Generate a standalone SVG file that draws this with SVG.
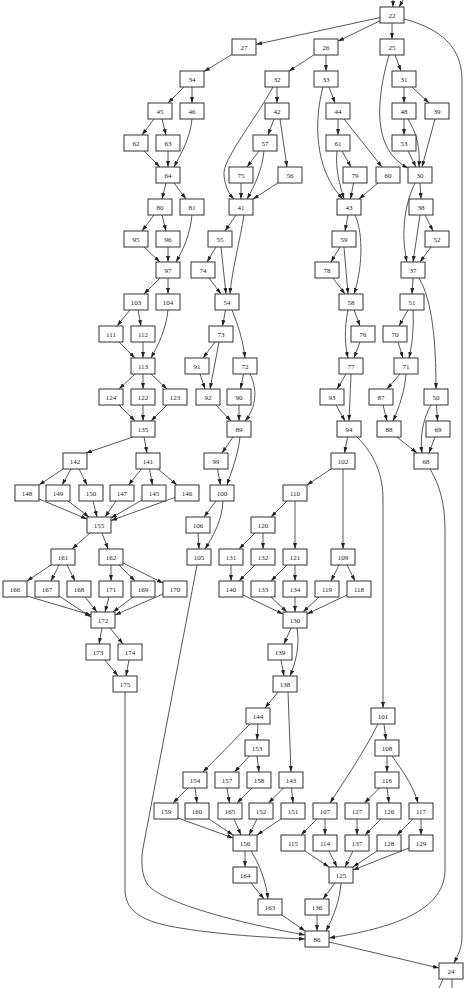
<svg xmlns="http://www.w3.org/2000/svg" width="474" height="988" viewBox="0 0 474 988">
<defs>
<marker id="a" viewBox="0 0 6 4" refX="6" refY="2" markerWidth="6" markerHeight="4" markerUnits="userSpaceOnUse" orient="auto"><path d="M0,0L6,2L0,4z" fill="#222"/></marker>
<style>
.n rect{fill:#fff;stroke:#333;stroke-width:1}
.n text{font-family:"Liberation Serif","Times New Roman",serif;font-size:7px;fill:#222;text-anchor:middle}
#edges path{fill:none;stroke:#444;stroke-width:0.9;marker-end:url(#a)}
#edges path.x{marker-end:none}
</style>
</defs>
<rect width="474" height="988" fill="#fff"/>
<g id="edges">
<path d="M393,0L393,7"/>
<path d="M403,0L399,7"/>
<path d="M380,17.6L256,44.4"/>
<path d="M380,20.8L338,41.2"/>
<path d="M392,23L392,39"/>
<path d="M404,19C430,26 462,40 462,80L462,935C462,948 458,955 454,963"/>
<path d="M232,54.4L204,71.6"/>
<path d="M314,54.8L289,71.2"/>
<path d="M326,55L326,71"/>
<path d="M395,55L401,71"/>
<path d="M389,55C376,100 372,150 408,168"/>
<path d="M184,87L168,103"/>
<path d="M192,87L192,103"/>
<path d="M277,87L277,103"/>
<path d="M273,87C255,120 222,160 224,175C225,188 230,195 234,199"/>
<path d="M329,87L335,103"/>
<path d="M323,87C314,120 314,170 343,199"/>
<path d="M404,87L404,103"/>
<path d="M412,87L429,103"/>
<path d="M154,119L142,135"/>
<path d="M162,119L166,135"/>
<path d="M192,119C190,140 180,155 174,167"/>
<path d="M274,119L268,135"/>
<path d="M280,119L287,167"/>
<path d="M338,119L338,135"/>
<path d="M344,119L382,167"/>
<path d="M404,119L404,135"/>
<path d="M408,119C418,135 420,150 419,167"/>
<path d="M435,119L422,167"/>
<path d="M144,151L160,167"/>
<path d="M168,151L168,167"/>
<path d="M259,151L247,167"/>
<path d="M264,151C262,170 255,185 247,199"/>
<path d="M241,183L241,199"/>
<path d="M278,182.8L253,199.2"/>
<path d="M342,151L351,167"/>
<path d="M337,151C335,170 340,185 344,199"/>
<path d="M353.5,183L350.5,199"/>
<path d="M378,183L359,199"/>
<path d="M408,151L416,167"/>
<path d="M166,183L162,199"/>
<path d="M174,183L186,199"/>
<path d="M236,215L225,231"/>
<path d="M244,215C240,240 232,270 230,294"/>
<path d="M348,215L345,231"/>
<path d="M355,215C364,235 362,270 354,294"/>
<path d="M420,183L421,199"/>
<path d="M415,183C402,210 402,240 407,262"/>
<path d="M425,215L433,231"/>
<path d="M420,215L413,262"/>
<path d="M431,247L420,262"/>
<path d="M154,215L142,231"/>
<path d="M162,215L166,231"/>
<path d="M192,215C190,235 183,250 176,262"/>
<path d="M144,247L160,262"/>
<path d="M168,247L168,262"/>
<path d="M216,247L207,262"/>
<path d="M221,247L226,294"/>
<path d="M209,278L221,294"/>
<path d="M340,247L331,262"/>
<path d="M344,247L348,294"/>
<path d="M333,278L345,294"/>
<path d="M160,278L144,294"/>
<path d="M168,278L168,294"/>
<path d="M130,310L117,326"/>
<path d="M138,310L141,326"/>
<path d="M168,310C166,330 158,345 151,358"/>
<path d="M119,342L135,358"/>
<path d="M143,342L143,358"/>
<path d="M225.5,310L222.5,326"/>
<path d="M232,310C238,325 243,340 245,358"/>
<path d="M354,310L360,326"/>
<path d="M348,310C344,330 345,345 348,358"/>
<path d="M408,310L399,326"/>
<path d="M413,310C414,330 412,345 409,358"/>
<path d="M413,278L412,294"/>
<path d="M419,278C432,300 436,340 436,389"/>
<path d="M135,374L119,389"/>
<path d="M143,374L143,389"/>
<path d="M151,374L167,389"/>
<path d="M215,342L203,358"/>
<path d="M219,342L210,389"/>
<path d="M200,374L205,389"/>
<path d="M243.5,374L240.5,389"/>
<path d="M250,374C258,390 256,408 245,421"/>
<path d="M216,405L231,421"/>
<path d="M239,405L239,421"/>
<path d="M360,342L354,358"/>
<path d="M346,374L337,389"/>
<path d="M351,374L349,421"/>
<path d="M336,405L345,421"/>
<path d="M398,342L403,358"/>
<path d="M400,374L387,389"/>
<path d="M406,374C405,390 399,408 393,421"/>
<path d="M383,405L387,421"/>
<path d="M436.5,405L437.5,421"/>
<path d="M431,405C422,420 420,440 422,453"/>
<path d="M397,437L417,453"/>
<path d="M435,437L429,453"/>
<path d="M430,469C440,485 445,505 445,530L445,870C445,915 380,930 329,938"/>
<path d="M119,405L135,421"/>
<path d="M143,405L143,421"/>
<path d="M167,405L151,421"/>
<path d="M133,437L86,453"/>
<path d="M144,437L147,453"/>
<path d="M347.5,437L344.5,453"/>
<path d="M357,437C375,455 383,475 383,500L383,708"/>
<path d="M233,437L222,453"/>
<path d="M240,437C238,455 232,470 227,485"/>
<path d="M217.5,469L220.5,485"/>
<path d="M63,469L39,485"/>
<path d="M71,469L62,485"/>
<path d="M79,469L87,485"/>
<path d="M141.5,469L128.5,485"/>
<path d="M149.5,469L152.5,485"/>
<path d="M158,469L177,485"/>
<path d="M39,499L87,519"/>
<path d="M68,501L89,517"/>
<path d="M93,501L97,517"/>
<path d="M116,501L105,517"/>
<path d="M142,500L111,518"/>
<path d="M175,497.4L111,520.6"/>
<path d="M216,501L204,517"/>
<path d="M223,501C222,520 214,535 205,549"/>
<path d="M198,533L199,549"/>
<path d="M197,565L143,848C141,860 141,875 148,885C165,905 250,925 305,935"/>
<path d="M125,692L125,890C125,915 150,923 180,928C230,936 280,938 305,939"/>
<path d="M90,533L72,549"/>
<path d="M102,533L108,549"/>
<path d="M51,565L27,581"/>
<path d="M59,565L51,581"/>
<path d="M67,565L75,581"/>
<path d="M111,565L111,581"/>
<path d="M119,565L135,581"/>
<path d="M123,563L163,583"/>
<path d="M27,596L91,615"/>
<path d="M59,596L91,617"/>
<path d="M85,597L97,612"/>
<path d="M109,597L105,612"/>
<path d="M133,597L113,612"/>
<path d="M163,594L115,615"/>
<path d="M102,628L99,644"/>
<path d="M110,628L123,644"/>
<path d="M105,660L118,676"/>
<path d="M129,660L126,676"/>
<path d="M287,501L271,517"/>
<path d="M295,501L295,549"/>
<path d="M255,533L239,549"/>
<path d="M263,533L263,549"/>
<path d="M231,565L231,581"/>
<path d="M255,565L239,581"/>
<path d="M287,565L271,581"/>
<path d="M295,565L295,581"/>
<path d="M243,595L283,614"/>
<path d="M271,597L287,612"/>
<path d="M295,597L295,612"/>
<path d="M319,597L303,612"/>
<path d="M347,595L307,614"/>
<path d="M331,469L307,485"/>
<path d="M343,469L343,549"/>
<path d="M339,565L331,581"/>
<path d="M347,565L355,581"/>
<path d="M291,628L284,644"/>
<path d="M297,628C300,645 296,662 290,676"/>
<path d="M281,660L284,676"/>
<path d="M278,692L265,708"/>
<path d="M288,692L291,772"/>
<path d="M250,724L203,772"/>
<path d="M258,724L257,740"/>
<path d="M249.5,756L234.5,772"/>
<path d="M257,756L259,772"/>
<path d="M188,788L173,803"/>
<path d="M195,788L197,803"/>
<path d="M227,788L229.5,803"/>
<path d="M252,788L237,803"/>
<path d="M283.5,788L268.5,803"/>
<path d="M291.5,788L293,803"/>
<path d="M178,818L233,838"/>
<path d="M209,819L233,835"/>
<path d="M234,819L241,835"/>
<path d="M257,819L249,835"/>
<path d="M281,819L257,835"/>
<path d="M245,851L245,867"/>
<path d="M251,851C260,865 266,882 268,899"/>
<path d="M251,883L264,899"/>
<path d="M282,915L305,931"/>
<path d="M384,724L386,740"/>
<path d="M378,724C365,750 345,780 330,803"/>
<path d="M387,756L387,772"/>
<path d="M392,756C402,770 413,785 418,803"/>
<path d="M379.5,788L364.5,803"/>
<path d="M387,788L389,803"/>
<path d="M357,819L357,835"/>
<path d="M381,819L365,835"/>
<path d="M413,819L397,835"/>
<path d="M421,819L421,835"/>
<path d="M317,819L301,835"/>
<path d="M325,819L325,835"/>
<path d="M305,851L329,867"/>
<path d="M329,851L337,867"/>
<path d="M353,851L345,867"/>
<path d="M377,851L353,867"/>
<path d="M409,848L353,870"/>
<path d="M335,883L323,899"/>
<path d="M341,883C340,900 333,918 326,931"/>
<path d="M317,915L317,931"/>
<path d="M329,942L439,968"/>
<path class="x" d="M443,979L439,988"/>
<path class="x" d="M452,979L452,988"/>
</g>
<g id="n22" class="n"><rect x="380" y="7" width="24" height="16"/><text x="392" y="17.5">22</text></g>
<g id="n27" class="n"><rect x="232" y="39" width="24" height="16"/><text x="244" y="49.5">27</text></g>
<g id="n26" class="n"><rect x="314" y="39" width="24" height="16"/><text x="326" y="49.5">26</text></g>
<g id="n25" class="n"><rect x="380" y="39" width="24" height="16"/><text x="392" y="49.5">25</text></g>
<g id="n34" class="n"><rect x="180" y="71" width="24" height="16"/><text x="192" y="81.5">34</text></g>
<g id="n32" class="n"><rect x="265" y="71" width="24" height="16"/><text x="277" y="81.5">32</text></g>
<g id="n33" class="n"><rect x="314" y="71" width="24" height="16"/><text x="326" y="81.5">33</text></g>
<g id="n31" class="n"><rect x="392" y="71" width="24" height="16"/><text x="404" y="81.5">31</text></g>
<g id="n45" class="n"><rect x="148" y="103" width="24" height="16"/><text x="160" y="113.5">45</text></g>
<g id="n46" class="n"><rect x="180" y="103" width="24" height="16"/><text x="192" y="113.5">46</text></g>
<g id="n42" class="n"><rect x="265" y="103" width="24" height="16"/><text x="277" y="113.5">42</text></g>
<g id="n44" class="n"><rect x="326" y="103" width="24" height="16"/><text x="338" y="113.5">44</text></g>
<g id="n48" class="n"><rect x="392" y="103" width="24" height="16"/><text x="404" y="113.5">48</text></g>
<g id="n39" class="n"><rect x="425" y="103" width="24" height="16"/><text x="437" y="113.5">39</text></g>
<g id="n62" class="n"><rect x="124" y="135" width="24" height="16"/><text x="136" y="145.5">62</text></g>
<g id="n63" class="n"><rect x="156" y="135" width="24" height="16"/><text x="168" y="145.5">63</text></g>
<g id="n57" class="n"><rect x="253" y="135" width="24" height="16"/><text x="265" y="145.5">57</text></g>
<g id="n61" class="n"><rect x="326" y="135" width="24" height="16"/><text x="338" y="145.5">61</text></g>
<g id="n53" class="n"><rect x="392" y="135" width="24" height="16"/><text x="404" y="145.5">53</text></g>
<g id="n64" class="n"><rect x="156" y="167" width="24" height="16"/><text x="168" y="177.5">64</text></g>
<g id="n75" class="n"><rect x="229" y="167" width="24" height="16"/><text x="241" y="177.5">75</text></g>
<g id="n56" class="n"><rect x="278" y="167" width="24" height="16"/><text x="290" y="177.5">56</text></g>
<g id="n79" class="n"><rect x="343" y="167" width="24" height="16"/><text x="355" y="177.5">79</text></g>
<g id="n60" class="n"><rect x="376" y="167" width="24" height="16"/><text x="388" y="177.5">60</text></g>
<g id="n30" class="n"><rect x="408" y="167" width="24" height="16"/><text x="420" y="177.5">30</text></g>
<g id="n80" class="n"><rect x="148" y="199" width="24" height="16"/><text x="160" y="209.5">80</text></g>
<g id="n81" class="n"><rect x="180" y="199" width="24" height="16"/><text x="192" y="209.5">81</text></g>
<g id="n41" class="n"><rect x="229" y="199" width="24" height="16"/><text x="241" y="209.5">41</text></g>
<g id="n43" class="n"><rect x="337" y="199" width="24" height="16"/><text x="349" y="209.5">43</text></g>
<g id="n38" class="n"><rect x="409" y="199" width="24" height="16"/><text x="421" y="209.5">38</text></g>
<g id="n95" class="n"><rect x="124" y="231" width="24" height="16"/><text x="136" y="241.5">95</text></g>
<g id="n96" class="n"><rect x="156" y="231" width="24" height="16"/><text x="168" y="241.5">96</text></g>
<g id="n55" class="n"><rect x="208" y="231" width="24" height="16"/><text x="220" y="241.5">55</text></g>
<g id="n59" class="n"><rect x="332" y="231" width="24" height="16"/><text x="344" y="241.5">59</text></g>
<g id="n52" class="n"><rect x="425" y="231" width="24" height="16"/><text x="437" y="241.5">52</text></g>
<g id="n97" class="n"><rect x="156" y="262" width="24" height="16"/><text x="168" y="272.5">97</text></g>
<g id="n74" class="n"><rect x="191" y="262" width="24" height="16"/><text x="203" y="272.5">74</text></g>
<g id="n78" class="n"><rect x="315" y="262" width="24" height="16"/><text x="327" y="272.5">78</text></g>
<g id="n37" class="n"><rect x="401" y="262" width="24" height="16"/><text x="413" y="272.5">37</text></g>
<g id="n103" class="n"><rect x="124" y="294" width="24" height="16"/><text x="136" y="304.5">103</text></g>
<g id="n104" class="n"><rect x="156" y="294" width="24" height="16"/><text x="168" y="304.5">104</text></g>
<g id="n54" class="n"><rect x="215" y="294" width="24" height="16"/><text x="227" y="304.5">54</text></g>
<g id="n58" class="n"><rect x="339" y="294" width="24" height="16"/><text x="351" y="304.5">58</text></g>
<g id="n51" class="n"><rect x="400" y="294" width="24" height="16"/><text x="412" y="304.5">51</text></g>
<g id="n111" class="n"><rect x="99" y="326" width="24" height="16"/><text x="111" y="336.5">111</text></g>
<g id="n112" class="n"><rect x="131" y="326" width="24" height="16"/><text x="143" y="336.5">112</text></g>
<g id="n73" class="n"><rect x="209" y="326" width="24" height="16"/><text x="221" y="336.5">73</text></g>
<g id="n76" class="n"><rect x="351" y="326" width="24" height="16"/><text x="363" y="336.5">76</text></g>
<g id="n70" class="n"><rect x="383" y="326" width="24" height="16"/><text x="395" y="336.5">70</text></g>
<g id="n113" class="n"><rect x="131" y="358" width="24" height="16"/><text x="143" y="368.5">113</text></g>
<g id="n91" class="n"><rect x="185" y="358" width="24" height="16"/><text x="197" y="368.5">91</text></g>
<g id="n72" class="n"><rect x="233" y="358" width="24" height="16"/><text x="245" y="368.5">72</text></g>
<g id="n77" class="n"><rect x="339" y="358" width="24" height="16"/><text x="351" y="368.5">77</text></g>
<g id="n71" class="n"><rect x="394" y="358" width="24" height="16"/><text x="406" y="368.5">71</text></g>
<g id="n124" class="n"><rect x="99" y="389" width="24" height="16"/><text x="111" y="399.5">124</text></g>
<g id="n122" class="n"><rect x="131" y="389" width="24" height="16"/><text x="143" y="399.5">122</text></g>
<g id="n123" class="n"><rect x="163" y="389" width="24" height="16"/><text x="175" y="399.5">123</text></g>
<g id="n92" class="n"><rect x="196" y="389" width="24" height="16"/><text x="208" y="399.5">92</text></g>
<g id="n90" class="n"><rect x="227" y="389" width="24" height="16"/><text x="239" y="399.5">90</text></g>
<g id="n93" class="n"><rect x="320" y="389" width="24" height="16"/><text x="332" y="399.5">93</text></g>
<g id="n87" class="n"><rect x="369" y="389" width="24" height="16"/><text x="381" y="399.5">87</text></g>
<g id="n50" class="n"><rect x="424" y="389" width="24" height="16"/><text x="436" y="399.5">50</text></g>
<g id="n135" class="n"><rect x="131" y="421" width="24" height="16"/><text x="143" y="431.5">135</text></g>
<g id="n89" class="n"><rect x="227" y="421" width="24" height="16"/><text x="239" y="431.5">89</text></g>
<g id="n94" class="n"><rect x="337" y="421" width="24" height="16"/><text x="349" y="431.5">94</text></g>
<g id="n88" class="n"><rect x="377" y="421" width="24" height="16"/><text x="389" y="431.5">88</text></g>
<g id="n69" class="n"><rect x="426" y="421" width="24" height="16"/><text x="438" y="431.5">69</text></g>
<g id="n142" class="n"><rect x="63" y="453" width="24" height="16"/><text x="75" y="463.5">142</text></g>
<g id="n141" class="n"><rect x="136" y="453" width="24" height="16"/><text x="148" y="463.5">141</text></g>
<g id="n99" class="n"><rect x="204" y="453" width="24" height="16"/><text x="216" y="463.5">99</text></g>
<g id="n102" class="n"><rect x="331" y="453" width="24" height="16"/><text x="343" y="463.5">102</text></g>
<g id="n68" class="n"><rect x="414" y="453" width="24" height="16"/><text x="426" y="463.5">68</text></g>
<g id="n148" class="n"><rect x="15" y="485" width="24" height="16"/><text x="27" y="495.5">148</text></g>
<g id="n149" class="n"><rect x="46" y="485" width="24" height="16"/><text x="58" y="495.5">149</text></g>
<g id="n150" class="n"><rect x="79" y="485" width="24" height="16"/><text x="91" y="495.5">150</text></g>
<g id="n147" class="n"><rect x="110" y="485" width="24" height="16"/><text x="122" y="495.5">147</text></g>
<g id="n145" class="n"><rect x="142" y="485" width="24" height="16"/><text x="154" y="495.5">145</text></g>
<g id="n146" class="n"><rect x="175" y="485" width="24" height="16"/><text x="187" y="495.5">146</text></g>
<g id="n100" class="n"><rect x="210" y="485" width="24" height="16"/><text x="222" y="495.5">100</text></g>
<g id="n110" class="n"><rect x="283" y="485" width="24" height="16"/><text x="295" y="495.5">110</text></g>
<g id="n155" class="n"><rect x="87" y="517" width="24" height="16"/><text x="99" y="527.5">155</text></g>
<g id="n106" class="n"><rect x="186" y="517" width="24" height="16"/><text x="198" y="527.5">106</text></g>
<g id="n120" class="n"><rect x="251" y="517" width="24" height="16"/><text x="263" y="527.5">120</text></g>
<g id="n161" class="n"><rect x="51" y="549" width="24" height="16"/><text x="63" y="559.5">161</text></g>
<g id="n162" class="n"><rect x="99" y="549" width="24" height="16"/><text x="111" y="559.5">162</text></g>
<g id="n105" class="n"><rect x="187" y="549" width="24" height="16"/><text x="199" y="559.5">105</text></g>
<g id="n131" class="n"><rect x="219" y="549" width="24" height="16"/><text x="231" y="559.5">131</text></g>
<g id="n132" class="n"><rect x="251" y="549" width="24" height="16"/><text x="263" y="559.5">132</text></g>
<g id="n121" class="n"><rect x="283" y="549" width="24" height="16"/><text x="295" y="559.5">121</text></g>
<g id="n109" class="n"><rect x="331" y="549" width="24" height="16"/><text x="343" y="559.5">109</text></g>
<g id="n166" class="n"><rect x="3" y="581" width="24" height="16"/><text x="15" y="591.5">166</text></g>
<g id="n167" class="n"><rect x="35" y="581" width="24" height="16"/><text x="47" y="591.5">167</text></g>
<g id="n168" class="n"><rect x="67" y="581" width="24" height="16"/><text x="79" y="591.5">168</text></g>
<g id="n171" class="n"><rect x="99" y="581" width="24" height="16"/><text x="111" y="591.5">171</text></g>
<g id="n169" class="n"><rect x="131" y="581" width="24" height="16"/><text x="143" y="591.5">169</text></g>
<g id="n170" class="n"><rect x="163" y="581" width="24" height="16"/><text x="175" y="591.5">170</text></g>
<g id="n140" class="n"><rect x="219" y="581" width="24" height="16"/><text x="231" y="591.5">140</text></g>
<g id="n133" class="n"><rect x="251" y="581" width="24" height="16"/><text x="263" y="591.5">133</text></g>
<g id="n134" class="n"><rect x="283" y="581" width="24" height="16"/><text x="295" y="591.5">134</text></g>
<g id="n119" class="n"><rect x="315" y="581" width="24" height="16"/><text x="327" y="591.5">119</text></g>
<g id="n118" class="n"><rect x="347" y="581" width="24" height="16"/><text x="359" y="591.5">118</text></g>
<g id="n172" class="n"><rect x="91" y="612" width="24" height="16"/><text x="103" y="622.5">172</text></g>
<g id="n130" class="n"><rect x="283" y="612" width="24" height="16"/><text x="295" y="622.5">130</text></g>
<g id="n173" class="n"><rect x="86" y="644" width="24" height="16"/><text x="98" y="654.5">173</text></g>
<g id="n174" class="n"><rect x="118" y="644" width="24" height="16"/><text x="130" y="654.5">174</text></g>
<g id="n139" class="n"><rect x="268" y="644" width="24" height="16"/><text x="280" y="654.5">139</text></g>
<g id="n175" class="n"><rect x="113" y="676" width="24" height="16"/><text x="125" y="686.5">175</text></g>
<g id="n138" class="n"><rect x="273" y="676" width="24" height="16"/><text x="285" y="686.5">138</text></g>
<g id="n144" class="n"><rect x="246" y="708" width="24" height="16"/><text x="258" y="718.5">144</text></g>
<g id="n101" class="n"><rect x="371" y="708" width="24" height="16"/><text x="383" y="718.5">101</text></g>
<g id="n153" class="n"><rect x="245" y="740" width="24" height="16"/><text x="257" y="750.5">153</text></g>
<g id="n108" class="n"><rect x="375" y="740" width="24" height="16"/><text x="387" y="750.5">108</text></g>
<g id="n154" class="n"><rect x="183" y="772" width="24" height="16"/><text x="195" y="782.5">154</text></g>
<g id="n157" class="n"><rect x="215" y="772" width="24" height="16"/><text x="227" y="782.5">157</text></g>
<g id="n158" class="n"><rect x="247" y="772" width="24" height="16"/><text x="259" y="782.5">158</text></g>
<g id="n143" class="n"><rect x="279" y="772" width="24" height="16"/><text x="291" y="782.5">143</text></g>
<g id="n116" class="n"><rect x="375" y="772" width="24" height="16"/><text x="387" y="782.5">116</text></g>
<g id="n159" class="n"><rect x="154" y="803" width="24" height="16"/><text x="166" y="813.5">159</text></g>
<g id="n160" class="n"><rect x="185" y="803" width="24" height="16"/><text x="197" y="813.5">160</text></g>
<g id="n165" class="n"><rect x="218" y="803" width="24" height="16"/><text x="230" y="813.5">165</text></g>
<g id="n152" class="n"><rect x="249" y="803" width="24" height="16"/><text x="261" y="813.5">152</text></g>
<g id="n151" class="n"><rect x="281" y="803" width="24" height="16"/><text x="293" y="813.5">151</text></g>
<g id="n107" class="n"><rect x="313" y="803" width="24" height="16"/><text x="325" y="813.5">107</text></g>
<g id="n127" class="n"><rect x="345" y="803" width="24" height="16"/><text x="357" y="813.5">127</text></g>
<g id="n126" class="n"><rect x="377" y="803" width="24" height="16"/><text x="389" y="813.5">126</text></g>
<g id="n117" class="n"><rect x="409" y="803" width="24" height="16"/><text x="421" y="813.5">117</text></g>
<g id="n156" class="n"><rect x="233" y="835" width="24" height="16"/><text x="245" y="845.5">156</text></g>
<g id="n115" class="n"><rect x="281" y="835" width="24" height="16"/><text x="293" y="845.5">115</text></g>
<g id="n114" class="n"><rect x="313" y="835" width="24" height="16"/><text x="325" y="845.5">114</text></g>
<g id="n137" class="n"><rect x="345" y="835" width="24" height="16"/><text x="357" y="845.5">137</text></g>
<g id="n128" class="n"><rect x="377" y="835" width="24" height="16"/><text x="389" y="845.5">128</text></g>
<g id="n129" class="n"><rect x="409" y="835" width="24" height="16"/><text x="421" y="845.5">129</text></g>
<g id="n164" class="n"><rect x="233" y="867" width="24" height="16"/><text x="245" y="877.5">164</text></g>
<g id="n125" class="n"><rect x="329" y="867" width="24" height="16"/><text x="341" y="877.5">125</text></g>
<g id="n163" class="n"><rect x="258" y="899" width="24" height="16"/><text x="270" y="909.5">163</text></g>
<g id="n136" class="n"><rect x="305" y="899" width="24" height="16"/><text x="317" y="909.5">136</text></g>
<g id="n86" class="n"><rect x="305" y="931" width="24" height="16"/><text x="317" y="941.5">86</text></g>
<g id="n24" class="n"><rect x="439" y="963" width="24" height="16"/><text x="451" y="973.5">24</text></g>
</svg>
